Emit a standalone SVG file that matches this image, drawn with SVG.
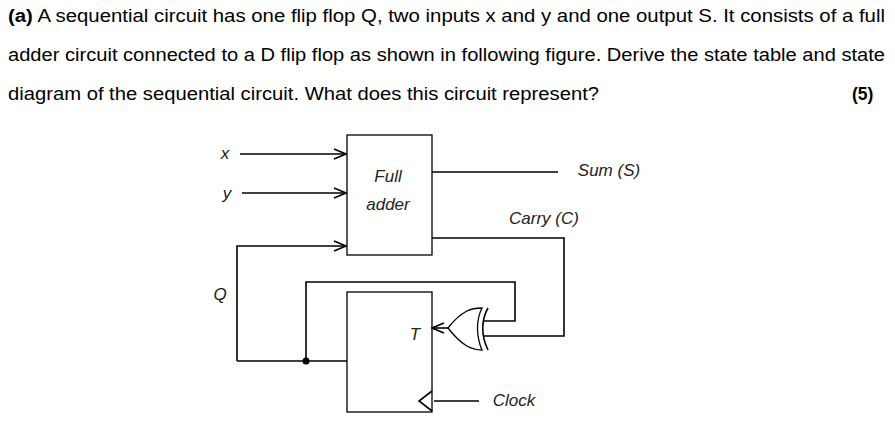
<svg xmlns="http://www.w3.org/2000/svg" width="895" height="438" viewBox="0 0 895 438">
<style>
.t{font-family:"Liberation Sans",Arial,sans-serif;font-size:17.5px;fill:#000}
.l{font-family:"Liberation Sans",Arial,sans-serif;font-size:17px;font-style:italic;fill:#222}
.w{fill:none;stroke:#000;stroke-width:1.6}
.b{fill:#fff;stroke:#000;stroke-width:1.3}
</style>
<defs><marker id="a" markerWidth="14" markerHeight="12" refX="13" refY="6" orient="auto" markerUnits="userSpaceOnUse"><path d="M1,1 L13,6 L1,11" fill="none" stroke="#000" stroke-width="1.5"/></marker></defs>
<rect width="895" height="438" fill="#fff"/>
<text class="t" x="8" y="22" textLength="877" lengthAdjust="spacingAndGlyphs"><tspan font-weight="bold">(a)</tspan> A sequential circuit has one flip flop Q, two inputs x and y and one output S. It consists of a full</text>
<text class="t" x="8" y="61" textLength="877" lengthAdjust="spacingAndGlyphs">adder circuit connected to a D flip flop as shown in following figure. Derive the state table and state</text>
<text class="t" x="8" y="100" textLength="591" lengthAdjust="spacingAndGlyphs">diagram of the sequential circuit. What does this circuit represent?</text>
<text class="t" x="852" y="100" font-weight="bold">(5)</text>
<g id="fulladder"><rect class="b" x="347" y="135" width="85" height="120"/><text class="l" x="388" y="182" text-anchor="middle">Full</text><text class="l" x="388" y="210" text-anchor="middle">adder</text></g>
<g id="flipflop"><rect class="b" x="347" y="292" width="85" height="120"/><text class="l" x="415" y="340" text-anchor="middle">T</text><path class="w" d="M432,391 L419,401 L432,411"/></g>
<g id="xor"><path class="b" d="M448,328 C462,310 472,308 482,308 C476,320 476,336 482,350 C472,350 462,346 448,328 Z"/><path class="w" d="M488,308 C481,320 481,336 488,350"/></g>
<g id="connectors">
<line class="w" x1="240" y1="154" x2="346" y2="154" marker-end="url(#a)"/>
<line class="w" x1="242" y1="193" x2="346" y2="193" marker-end="url(#a)"/>
<polyline class="w" points="237,361 237,246 346,246" marker-end="url(#a)"/>
<line class="w" x1="237" y1="361" x2="347" y2="361"/>
<circle cx="306" cy="361" r="3.5" fill="#000"/>
<polyline class="w" points="306,361 306,282 515,282 515,321 484,321"/>
<polyline class="w" points="432,238 564,238 564,336 484,336"/>
<line class="w" x1="448" y1="328" x2="432" y2="328" marker-end="url(#a)"/>
<line class="w" x1="432" y1="172" x2="558" y2="172"/>
<line class="w" x1="434" y1="401" x2="479" y2="401"/>
</g>
<text class="l" x="225" y="159" text-anchor="middle">x</text>
<text class="l" x="227" y="199" text-anchor="middle">y</text>
<text class="l" x="220" y="300" text-anchor="middle">Q</text>
<text class="l" x="609" y="176" text-anchor="middle">Sum (S)</text>
<text class="l" x="544" y="224" text-anchor="middle">Carry (C)</text>
<text class="l" x="514" y="406" text-anchor="middle">Clock</text>
</svg>
